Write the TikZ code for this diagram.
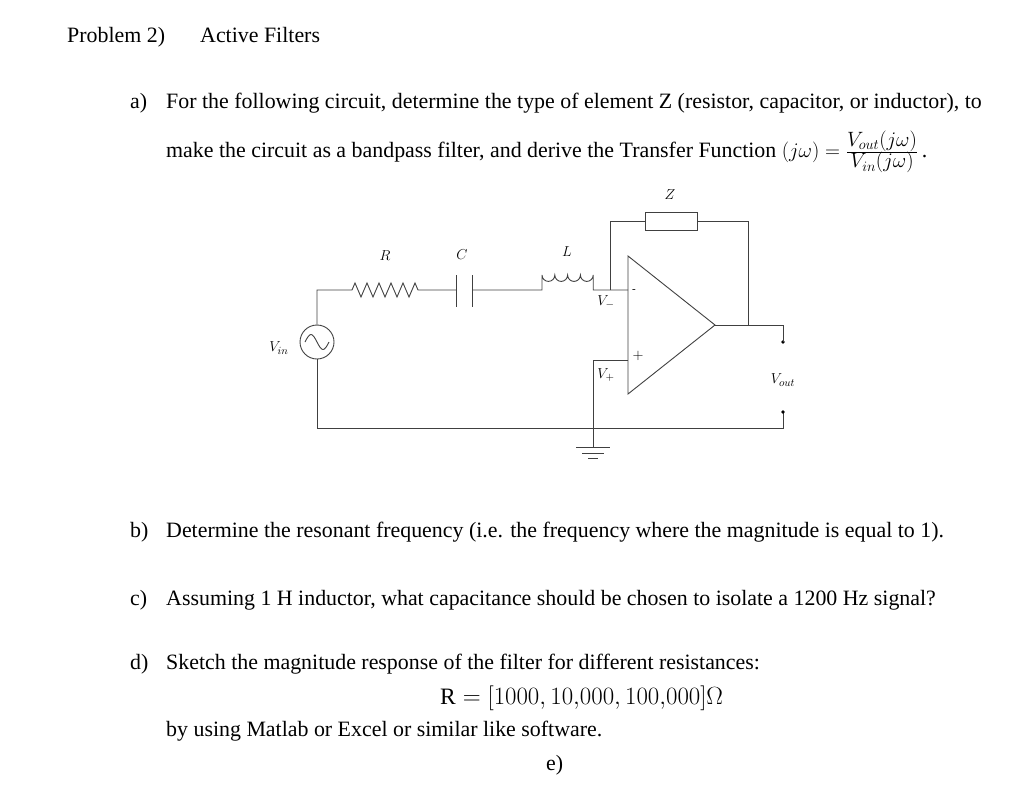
\documentclass[tikz,border=0pt]{standalone}
\usepackage{fontspec}
\setmainfont{Liberation Serif}
\begin{document}
\begin{tikzpicture}[x=1pt,y=-1pt,
  w/.style={draw=black!75,line width=0.9pt},
  txt/.style={anchor=base west,inner sep=0,font=\fontsize{21.9}{24}\selectfont},
  lab/.style={inner sep=0,font=\fontsize{15}{18}\selectfont}]
\useasboundingbox (0,0) rectangle (1024,801);
\node[txt] (p2) at (67,42) {Problem 2)};
\node[txt] (af) at (200,42) {Active Filters};
\node[txt] (al) at (130,108) {a)};
\node[txt] (a1) at (166,108) {For the following circuit, determine the type of element Z (resistor, capacitor, or inductor), to};
\node[txt] (a2) at (166,157) {make the circuit as a bandpass filter, and derive the Transfer Function $(j\omega)=\frac{\textstyle V_{out}(j\omega)}{\textstyle V_{in}(j\omega)}$\,.};
% circuit
\coordinate (tl) at (317,290); \coordinate (bl) at (317,428);
\node[circle,draw=black!75,line width=0.9pt,minimum size=34pt,inner sep=0] (src) at (317,342) {};
\draw[black!75,line width=0.9pt] (305,342) .. controls (310,332) and (312,332) .. (317,342) .. controls (322,352) and (324,352) .. (329,342);
\draw[w] (src.north) -- (tl) -- (352,290) -- (355,283) -- (361,297) -- (367,283) -- (373,297) -- (379,283) -- (385,297) -- (391,283) -- (397,297) -- (403,283) -- (409,297) -- (415,283) -- (418,290) -- (456,290);
\draw[w] (456,275) -- (456,307) (472,275) -- (472,307);
\draw[w] (472,290) -- (542,290) -- (542,275)
  arc[start angle=180,end angle=0,radius=6.4] arc[start angle=180,end angle=0,radius=6.4]
  arc[start angle=180,end angle=0,radius=6.4] arc[start angle=180,end angle=0,radius=6.4] -- (593.2,290) -- (628,290);
\draw[w] (src.south) -- (bl) -- (783,428) -- (783,412);
\fill (783,412) circle (1.8pt); \fill (783,342) circle (1.8pt);
\draw[w] (628,256) -- (715,325) -- (628,394) -- cycle;
\draw[w] (610,290) -- (610,221) -- (645,221);
\node[draw=black!75,line width=0.9pt,minimum width=52pt,minimum height=18pt,inner sep=0] (Z) at (671,221) {};
\draw[w] (Z.east) -- (748,221) -- (748,325);
\draw[w] (715,325) -- (783,325) -- (783,342);
\draw[w] (628,360) -- (593,360) -- (593,447);
\draw[w] (576,447) -- (610,447) (582,453) -- (604,453) (588,458) -- (598,458);
\node[lab] at (385,256) {$R$};
\node[lab] at (462,255) {$C$};
\node[lab] at (567,252) {$L$};
\node[lab] at (670,195) {$Z$};
\node[lab] at (606,302) {$V_{-}$};
\node[lab] at (606,375) {$V_{+}$};
\node[lab] at (783,380) {$V_{out}$};
\node[lab] at (279,348) {$V_{in}$};
\node[lab,font=\fontsize{11}{12}\selectfont] at (634,291) {-};
\node[lab] at (638,356) {$+$};
% questions
\node[txt] (bl2) at (130,537) {b)};
\node[txt] (b) at (166,537) {Determine the resonant frequency (i.e. the frequency where the magnitude is equal to 1).};
\node[txt] (cl) at (130,605) {c)};
\node[txt] (c) at (166,605) {Assuming 1 H inductor, what capacitance should be chosen to isolate a 1200 Hz signal?};
\node[txt] (dl) at (130,669) {d)};
\node[txt] (d) at (166,669) {Sketch the magnitude response of the filter for different resistances:};
\node[txt,font=\fontsize{23.5}{24}\selectfont] (r) at (440,704) {$\mathrm{R}=[1000, 10{,}000, 100{,}000]\Omega$};
\node[txt] (u) at (166,736) {by using Matlab or Excel or similar like software.};
\node[txt] (e) at (546,770) {e)};
\end{tikzpicture}
\end{document}
